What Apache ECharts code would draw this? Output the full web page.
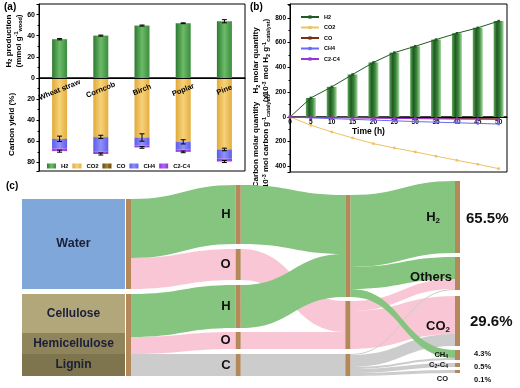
<!DOCTYPE html>
<html><head><meta charset="utf-8">
<script src="https://cdn.jsdelivr.net/npm/echarts@6/dist/echarts.min.js"></script>
<style>html,body{margin:0;padding:0;background:#fff}#c{width:520px;height:388px}</style>
</head><body><div id="c"></div>
<script>
// ---------- Panel (a): H2 production and carbon yield per feedstock ----------
const feedstocks = ['Wheat straw', 'Corncob', 'Birch', 'Poplar', 'Pine'];
const h2Production = [36.7, 40.1, 49.6, 51.8, 53.7];
const h2ProductionErr = [0.6, 0.5, 0.5, 0.4, 1.5];
const co2Yield = [57.5, 55.7, 56.3, 60.4, 67.6];
const co2YieldErr = [2.5, 1.5, 3.5, 2.0, 1.2];
const coYield = [0.2, 0.3, 0.2, 0.2, 0.3];
const ch4Yield = [9.0, 13.4, 7.3, 7.1, 8.5];
const c2c4Yield = [2.5, 2.5, 1.9, 2.2, 2.6];
const totalYieldErr = [1.0, 1.0, 0.8, 0.8, 1.0];

// ---------- Panel (b): time course ----------
const timeH = [0, 5, 10, 15, 20, 25, 30, 35, 40, 45, 50];
const h2Mol = [0, 154, 243, 343, 440, 519, 570, 624, 675, 719, 773];
const co2Mol = [0, 67, 121, 170, 216, 251, 283, 318, 351, 383, 419];
const coMol = [0, 2, 3, 5, 6, 8, 9, 10, 12, 13, 14];
const ch4Mol = [0, 7, 13, 19, 25, 31, 37, 42, 47, 52, 57];
const c2c4Mol = [0, 3, 5, 7, 9, 11, 13, 15, 17, 18, 20];

// ---------- Panel (c): element flow ----------
const waterAmount = [90];
const biomassParts = ['Cellulose', 'Hemicellulose', 'Lignin'];
const biomassAmount = [39, 21, 22];
const nodeIds = ['Water', 'Biomass', 'Hw', 'Ow', 'Hb', 'Ob', 'Cb', 'H', 'O', 'C', 'H2', 'Others', 'CO2', 'CH4', 'C2-C4', 'CO'];
const nodeLabels = ['', '', 'H', 'O', 'H', 'O', 'C', '', '', '', 'H{s|2}', 'Others', 'CO{s|2}', 'CH{t|4}', 'C{t|2}-C{t|4}', 'CO'];
const linkSource = ['Water', 'Biomass', 'Ow', 'Ob', 'O', 'O', 'Biomass', 'Cb', 'C', 'C', 'C', 'C', 'C', 'Water', 'Biomass', 'Hw', 'Hb', 'H', 'H', 'H'];
const linkTarget = ['Ow', 'Ob', 'O', 'O', 'Others', 'CO2', 'Cb', 'C', 'Others', 'CO2', 'CH4', 'C2-C4', 'CO', 'Hw', 'Hb', 'H', 'H', 'H2', 'Others', 'CH4'];
const linkValue = [31, 17, 31, 17, 10, 38, 22, 22, 1, 12, 2, 4, 3, 59, 43, 59, 43, 72, 22, 8];
const linkElement = ['O', 'O', 'O', 'O', 'O', 'O', 'C', 'C', 'C', 'C', 'C', 'C', 'C', 'H', 'H', 'H', 'H', 'H', 'H', 'H'];
const gasShares = ['65.5%', '29.6%', '4.3%', '0.5%', '0.1%'];

// ---------- layout / style (not data) ----------
const F = 'Arial, "Liberation Sans", sans-serif';
const sankeyTop = 180, sankeyH = 192;
const nodeTopPx = [199, 294, 185, 249, 285, 332, 354, 195, 301, 354, 181, 257, 296, 350, 363, 370];
const elementColor = { H: '#86c57f', O: '#f8c6d4', C: '#cccccc' };
const pctPos = [[466, 219, 15], [470, 322, 15], [474, 354, 7.5], [474, 367, 7.5], [474, 380, 7.5]];

function grad(stops) {
  return { type: 'linear', x: 0, y: 0, x2: 1, y2: 0, colorStops: stops.map((c, i) => ({ offset: i / (stops.length - 1), color: c })) };
}
const rich = {
  s: { fontSize: 5.5, fontWeight: 'bold', verticalAlign: 'bottom', lineHeight: 6, fontFamily: F },
  p: { fontSize: 5.5, fontWeight: 'bold', verticalAlign: 'top', lineHeight: 6, fontFamily: F }
};
const legendNames = { H2: 'H{s|2}', CO2: 'CO{s|2}', CO: 'CO', CH4: 'CH{s|4}', 'C2-C4': 'C{s|2}-C{s|4}' };

function errItem(params, api) {
  const x = api.value(0), v = api.value(1), e = api.value(2);
  const lo = api.coord([x, v - e]), hi = api.coord([x, v + e]);
  const w = 2.5, st = { stroke: '#000', lineWidth: 1 };
  return { type: 'group', children: [
    { type: 'line', shape: { x1: lo[0], y1: lo[1], x2: hi[0], y2: hi[1] }, style: st },
    { type: 'line', shape: { x1: lo[0] - w, y1: lo[1], x2: lo[0] + w, y2: lo[1] }, style: st },
    { type: 'line', shape: { x1: hi[0] - w, y1: hi[1], x2: hi[0] + w, y2: hi[1] }, style: st }
  ] };
}

const axisLbl = { color: '#000', fontSize: 7, fontWeight: 'bold', fontFamily: F };
const axLine = { show: true, lineStyle: { color: '#000', width: 1 } };
const nameStyle = { color: '#000', fontSize: 8, fontWeight: 'bold', fontFamily: F, lineHeight: 10, rich: rich };

const grids = [
  { left: 39, top: 4, width: 206, height: 74 },
  { left: 39, top: 78, width: 206, height: 93 },
  { left: 290, top: 4, width: 217, height: 113 },
  { left: 290, top: 117, width: 217, height: 55 },
  { left: 22, top: 199, width: 103, height: 90 },
  { left: 22, top: 294, width: 103, height: 82 }
].map((g, i) => Object.assign(g, i < 4 ? { show: true, borderColor: '#000', borderWidth: 1, backgroundColor: 'transparent' } : { show: false }));

const hidden = { show: false };

const xAxes = [
  { type: 'category', gridIndex: 0, data: feedstocks, position: 'bottom', axisLine: axLine, axisTick: hidden, axisLabel: hidden },
  { type: 'category', gridIndex: 1, data: feedstocks, position: 'top', axisLine: axLine, axisTick: hidden, z: 10,
    axisLabel: { inside: true, rotate: 22, margin: 12, align: 'center', verticalAlign: 'middle', color: '#000', fontSize: 7.5, fontWeight: 'bold', fontFamily: F } },
  { type: 'value', gridIndex: 2, min: 0, max: 52, interval: 5, position: 'bottom', axisLine: axLine, splitLine: hidden,
    axisTick: { show: true, inside: true, length: 2, lineStyle: { color: '#000' } },
    axisLabel: { margin: 2, showMaxLabel: false, fontSize: 6.5, color: '#000', fontWeight: 'bold', fontFamily: F },
    name: 'Time (h)', nameLocation: 'middle', nameGap: 10,
    nameTextStyle: { color: '#000', fontSize: 8.5, fontWeight: 'bold', fontFamily: F, padding: [0, 60, 0, 0] } },
  { type: 'value', gridIndex: 3, min: 0, max: 52, show: false },
  { type: 'category', gridIndex: 4, data: ['w'], show: false },
  { type: 'category', gridIndex: 5, data: ['b'], show: false }
];

const yAxes = [
  { type: 'value', gridIndex: 0, min: 0, max: 70, interval: 20, axisLine: axLine, splitLine: hidden,
    axisTick: { show: true, length: 2.5, lineStyle: { color: '#000' } },
    minorTick: { show: true, splitNumber: 2, length: 1.5, lineStyle: { color: '#000' } },
    axisLabel: Object.assign({ showMaxLabel: false, margin: 4 }, axisLbl),
    name: 'H{s|2} production\n(mmol g{p|-1}{s|wood})', nameLocation: 'middle', nameGap: 14, nameTextStyle: nameStyle },
  { type: 'value', gridIndex: 1, min: 0, max: 88, interval: 20, inverse: true, axisLine: axLine, splitLine: hidden,
    axisTick: { show: true, length: 2.5, lineStyle: { color: '#000' } },
    minorTick: { show: true, splitNumber: 2, length: 1.5, lineStyle: { color: '#000' } },
    axisLabel: Object.assign({ showMinLabel: false, showMaxLabel: false, margin: 4 }, axisLbl),
    name: 'Carbon yield (%)', nameLocation: 'middle', nameGap: 22, nameTextStyle: nameStyle },
  { type: 'value', gridIndex: 2, min: 0, max: 911, interval: 200, axisLine: axLine, splitLine: hidden,
    axisTick: { show: true, length: 2.5, lineStyle: { color: '#000' } },
    minorTick: { show: true, splitNumber: 2, length: 1.5, lineStyle: { color: '#000' } },
    axisLabel: Object.assign({ showMaxLabel: false, margin: 4 }, axisLbl, { fontSize: 6.5 }),
    name: 'H{s|2} molar quantity\n(x10{p|-3} mol H{s|2} g{p|-1}{s|catalyst})', nameLocation: 'middle', nameGap: 19, nameTextStyle: nameStyle },
  { type: 'value', gridIndex: 3, min: 0, max: 446, interval: 200, inverse: true, axisLine: axLine, splitLine: hidden,
    axisTick: { show: true, length: 2.5, lineStyle: { color: '#000' } },
    minorTick: { show: true, splitNumber: 2, length: 1.5, lineStyle: { color: '#000' } },
    axisLabel: Object.assign({ showMinLabel: false, showMaxLabel: false, margin: 4 }, axisLbl, { fontSize: 6.5 }),
    name: 'Carbon molar quantity\n(x10{p|-3} mol carbon g{p|-1}{s|catalyst})', nameLocation: 'middle', nameGap: 19, nameTextStyle: nameStyle },
  { type: 'value', gridIndex: 4, min: 0, max: waterAmount[0], show: false },
  { type: 'value', gridIndex: 5, min: 0, max: biomassAmount.reduce((a, b) => a + b, 0), show: false }
];

const series = [];
// Panel (a)
series.push({ name: 'H2', type: 'bar', xAxisIndex: 0, yAxisIndex: 0, barWidth: 15, data: h2Production,
  itemStyle: { color: grad(['#2d7a30', '#6bbb68', '#3b8c3d']) } });
series.push({ name: 'CO2', type: 'bar', xAxisIndex: 1, yAxisIndex: 1, stack: 'c', barWidth: 15, data: co2Yield,
  itemStyle: { color: grad(['#e2a93a', '#f6d27a', '#e4ae40']) } });
series.push({ name: 'CO', type: 'bar', xAxisIndex: 1, yAxisIndex: 1, stack: 'c', barWidth: 15, data: coYield,
  itemStyle: { color: grad(['#5c4510', '#a8862a', '#5c4510']) } });
series.push({ name: 'CH4', type: 'bar', xAxisIndex: 1, yAxisIndex: 1, stack: 'c', barWidth: 15, data: ch4Yield,
  itemStyle: { color: grad(['#5b5be8', '#9090fa', '#5f5fe8']) } });
series.push({ name: 'C2-C4', type: 'bar', xAxisIndex: 1, yAxisIndex: 1, stack: 'c', barWidth: 15, data: c2c4Yield,
  itemStyle: { color: grad(['#8a35d8', '#b466f2', '#8a35d8']) } });
series.push({ type: 'custom', xAxisIndex: 0, yAxisIndex: 0, renderItem: errItem, z: 5,
  data: feedstocks.map((f, i) => [i, h2Production[i], h2ProductionErr[i]]) });
series.push({ type: 'custom', xAxisIndex: 1, yAxisIndex: 1, renderItem: errItem, z: 5,
  data: feedstocks.map((f, i) => [i, co2Yield[i], co2YieldErr[i]]) });
series.push({ type: 'custom', xAxisIndex: 1, yAxisIndex: 1, renderItem: errItem, z: 5,
  data: feedstocks.map((f, i) => [i, co2Yield[i] + coYield[i] + ch4Yield[i] + c2c4Yield[i], totalYieldErr[i]]) });

// Panel (b)
series.push({ name: 'h2bars', type: 'bar', xAxisIndex: 2, yAxisIndex: 2, barWidth: 10,
  data: timeH.map((t, i) => [t, h2Mol[i]]).filter(d => d[0] > 0),
  itemStyle: { color: grad(['#5ea85b', '#1c5a20', '#3f8a3f', '#a9d8a3']) } });
const lineDef = (name, xi, yi, vals, color) => ({ name, type: 'line', xAxisIndex: xi, yAxisIndex: yi,
  data: timeH.map((t, i) => [t, vals[i]]), symbol: 'rect', symbolSize: 2.5, showSymbol: true,
  lineStyle: { color, width: 1 }, itemStyle: { color }, z: 4 });
series.push(lineDef('bH2', 2, 2, h2Mol, '#1f5a24'));
series.push(lineDef('bCO2', 3, 3, co2Mol, '#efc064'));
series.push(lineDef('bCO', 3, 3, coMol, '#7a3010'));
series.push(lineDef('bCH4', 3, 3, ch4Mol, '#6a6af2'));
series.push(lineDef('bC2C4', 3, 3, c2c4Mol, '#9a34d6'));

// Panel (c) left boxes
const boxLabel = (fs) => ({ show: true, position: 'inside', formatter: '{a}', color: '#1a1f3a', fontSize: fs, fontWeight: 'bold', fontFamily: F });
series.push({ name: 'Water', type: 'bar', xAxisIndex: 4, yAxisIndex: 4, barWidth: '100%', data: waterAmount,
  itemStyle: { color: '#80a7d9' }, label: boxLabel(12.5) });
const boxColors = { Cellulose: '#b2a67b', Hemicellulose: '#8f845a', Lignin: '#7e754f' };
for (let k = biomassParts.length - 1; k >= 0; k--) {
  series.push({ name: biomassParts[k], type: 'bar', xAxisIndex: 5, yAxisIndex: 5, stack: 'bio', barWidth: '100%',
    data: [biomassAmount[k]], itemStyle: { color: boxColors[biomassParts[k]] }, label: boxLabel(12) });
}

// Panel (c) sankey
const bigLbl = { fontSize: 13, fontWeight: 'bold', color: '#111', fontFamily: F, lineHeight: 16,
  rich: { s: { fontSize: 8, fontWeight: 'bold', verticalAlign: 'bottom', lineHeight: 8, fontFamily: F, color: '#111' },
          t: { fontSize: 5, fontWeight: 'bold', verticalAlign: 'bottom', lineHeight: 5, fontFamily: F, color: '#111' } } };
const labelTweak = { H2: { distance: 15 }, Others: { distance: 3, offset: [0, 4] }, CO2: { distance: 5, offset: [0, 5] },
  CH4: { distance: 7, fontSize: 7.5, lineHeight: 9 }, 'C2-C4': { distance: 7, fontSize: 7.5, lineHeight: 9 },
  CO: { distance: 7, fontSize: 7.5, lineHeight: 9, offset: [0, 7] } };
const sankeyNodes = nodeIds.map((id, i) => {
  const lab = nodeLabels[i];
  return { name: id, localY: (nodeTopPx[i] - sankeyTop) / sankeyH,
    label: lab ? Object.assign({ show: true, position: 'left', distance: 5, formatter: lab }, bigLbl, labelTweak[id] || {}) : { show: false } };
});
const sankeyLinks = linkSource.map((s, i) => ({ source: s, target: linkTarget[i], value: linkValue[i],
  lineStyle: { color: elementColor[linkElement[i]], opacity: 1 } }));
series.push({ type: 'sankey', left: 126, top: sankeyTop, width: 334, height: sankeyH,
  nodeWidth: 5, nodeGap: 4, layoutIterations: 0, nodeAlign: 'justify', draggable: false,
  emphasis: { disabled: true }, data: sankeyNodes, links: sankeyLinks,
  itemStyle: { color: '#b5885a', borderWidth: 0 }, lineStyle: { opacity: 1, curveness: 0.5 }, label: { show: false } });

const graphics = [
  { type: 'text', left: 4, top: 2, style: { text: '(a)', font: 'bold 10px ' + F, fill: '#000' } },
  { type: 'text', left: 250, top: 2, style: { text: '(b)', font: 'bold 10px ' + F, fill: '#000' } },
  { type: 'text', left: 6, top: 181, style: { text: '(c)', font: 'bold 10px ' + F, fill: '#000' } }
];
gasShares.forEach((p, i) => graphics.push({ type: 'text', x: pctPos[i][0], y: pctPos[i][1],
  style: { text: p, font: 'bold ' + pctPos[i][2] + 'px ' + F, fill: '#111', textVerticalAlign: 'middle', verticalAlign: 'middle' } }));

const option = {
  animation: false,
  textStyle: { fontFamily: F },
  grid: grids, xAxis: xAxes, yAxis: yAxes, series: series, graphic: graphics,
  legend: [
    { data: ['H2', 'CO2', 'CO', 'CH4', 'C2-C4'], left: 42, top: 158, orient: 'horizontal', icon: 'rect',
      itemWidth: 9, itemHeight: 5, itemGap: 4, selectedMode: false,
      formatter: n => legendNames[n], textStyle: { fontSize: 6, fontWeight: 'bold', color: '#000', fontFamily: F, rich: rich } },
    { data: ['bH2', 'bCO2', 'bCO', 'bCH4', 'bC2C4'], left: 295, top: 9, orient: 'vertical',
      itemWidth: 18, itemHeight: 4, itemGap: 4.5, selectedMode: false,
      formatter: n => ({ bH2: 'H{s|2}', bCO2: 'CO{s|2}', bCO: 'CO', bCH4: 'CH{s|4}', bC2C4: 'C{s|2}-C{s|4}' })[n],
      textStyle: { fontSize: 5.5, fontWeight: 'bold', color: '#000', fontFamily: F, rich: rich } }
  ]
};
const chart = echarts.init(document.getElementById('c'), null, { renderer: 'canvas', width: 520, height: 388 });
chart.setOption(option);
</script></body></html>
